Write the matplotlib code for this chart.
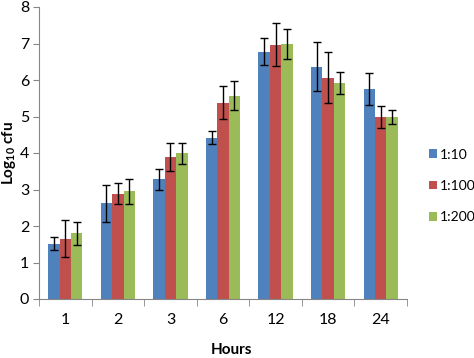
import numpy as np
import matplotlib
matplotlib.use("Agg")
import matplotlib.pyplot as plt

hours = ["1", "2", "3", "6", "12", "18", "24"]
series = ["1:10", "1:100", "1:200"]
colors = ["#4F81BD", "#C0504D", "#9BBB59"]

blue = [1.52, 2.62, 3.28, 4.42, 6.77, 6.36, 5.75]
blue_err = [0.19, 0.50, 0.29, 0.18, 0.37, 0.67, 0.44]
red = [1.65, 2.89, 3.90, 5.38, 6.97, 6.06, 4.99]
red_err = [0.51, 0.29, 0.38, 0.45, 0.60, 0.70, 0.30]
green = [1.80, 2.95, 3.99, 5.57, 6.99, 5.92, 4.99]
green_err = [0.31, 0.34, 0.29, 0.39, 0.41, 0.30, 0.19]

plt.rcParams['font.family'] = ['Lato', 'DejaVu Sans']
plt.rcParams['mathtext.fontset'] = 'custom'
plt.rcParams['mathtext.rm'] = 'Lato'
plt.rcParams['mathtext.bf'] = 'Lato:bold'

fig = plt.figure(figsize=(4.74, 3.58), dpi=100)
ax = fig.add_axes([39/474, 1-299/358, 368/474, 292/358])

x = np.arange(len(hours))
w = 0.218
for i, (vals, errs) in enumerate([(blue, blue_err), (red, red_err), (green, green_err)]):
    ax.bar(x + (i-1)*w, vals, w, color=colors[i], label=series[i],
           yerr=errs, capsize=3,
           error_kw=dict(ecolor="black", elinewidth=1, capthick=1))

ax.set_xlim(-0.5, len(hours)-0.5)
ax.set_ylim(0, 8)
ax.set_xticks(x)
ax.set_xticklabels(hours)
ax.set_xticks(np.arange(len(hours)+1) - 0.5, minor=True)
ax.tick_params(axis='x', which='major', length=0, labelsize=11.5, pad=10)
ax.tick_params(axis='x', which='minor', length=5, color='#868686', direction='out')
ax.tick_params(axis='y', length=4, color='#868686', labelsize=11.5, pad=3)

for s in ['top', 'right']:
    ax.spines[s].set_visible(False)
for s in ['left', 'bottom']:
    ax.spines[s].set_color('#868686')

fig.text(232/474, 1-350/358, "Hours", fontweight='bold', fontsize=11, ha='center', va='center')
fig.text(9/474, 1-153/358, r"Log$_{\mathbf{10}}$ cfu", fontweight='bold', fontsize=11,
         rotation=90, ha='center', va='center')

fig.legend(loc='center left', bbox_to_anchor=(422/474, 1-186/358), frameon=False,
           fontsize=10, handlelength=0.55, handleheight=0.55, handletextpad=0.2,
           labelspacing=1.4, borderpad=0)

fig.savefig("out.png", dpi=100)
